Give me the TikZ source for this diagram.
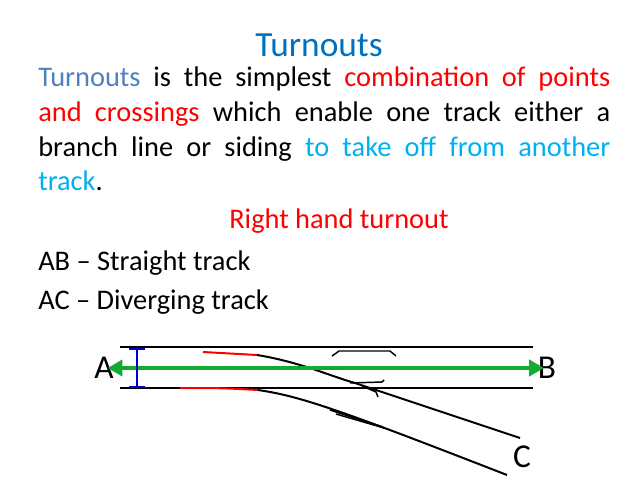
\documentclass[tikz,border=0pt]{standalone}
\usepackage{fontspec}
\setmainfont{Carlito}
\usetikzlibrary{arrows.meta}
\definecolor{ttl}{RGB}{0,112,192}
\definecolor{sblue}{RGB}{79,129,189}
\definecolor{cyn}{RGB}{0,176,240}
\definecolor{rd}{RGB}{255,0,0}
\definecolor{grn}{RGB}{20,170,50}
\begin{document}
\begin{tikzpicture}[x=0.75pt,y=-0.75pt,
  rail/.style={line width=1.5pt,black},
  chk/.style={line width=1.1pt,black},
  redrail/.style={line width=1.5pt,rd},
  lbl/.style={font=\fontsize{25}{25}\selectfont}]
\useasboundingbox (0,0) rectangle (638,478);
\node (title) at (319,45) {\fontsize{26.5}{30}\selectfont\color{ttl}Turnouts};
\node[anchor=north west,text width=429pt,align=justify,inner sep=0pt,font=\fontsize{21.3}{25.9}\selectfont] (para) at (38,67)
 {\hyphenpenalty=10000 \exhyphenpenalty=10000
 {\color{sblue}Turnouts} is the simplest {\color{rd}combination of points}\linebreak {\color{rd}and crossings} which enable one track either a\linebreak branch line or siding {\color{cyn}to take off from another}\linebreak {\color{cyn}track}.};
\node (rht) at (339,221) {\fontsize{21.3}{24}\selectfont\color{rd}Right hand turnout};
\node[anchor=west,inner sep=0pt] (ab) at (38,263) {\fontsize{21.3}{24}\selectfont AB -- Straight track};
\node[anchor=west,inner sep=0pt] (ac) at (38,302) {\fontsize{21.3}{24}\selectfont AC -- Diverging track};
% rails
\coordinate (t1) at (120,347); \coordinate (t2) at (533,347);
\coordinate (b1) at (120,388); \coordinate (b2) at (533,388);
\draw[rail] (t1) -- (t2);
\draw[rail] (b1) -- (b2);
% lower diverging rail
\coordinate (l0) at (180,388); \coordinate (l1) at (258,390); \coordinate (l2) at (507,475);
\draw[rail] (l1) .. controls (300,396) and (340,410) .. (l2);
\draw[redrail] (l0) .. controls (220,388) .. (l1);
% upper switch rail
\coordinate (u0) at (203,352); \coordinate (u1) at (257,355); \coordinate (u2) at (520,438);
\draw[redrail] (u0) -- (u1);
\draw[rail] (u1) .. controls (300,362) and (330,376) .. (355,383) -- (u2);
% check rails
\draw[chk] (332,356) -- (339,351) -- (390,351) -- (396,356);
\draw[chk] (350,383) -- (382,382) -- (384,380);
\draw[chk] (362,386) -- (376,392) -- (378,397);
\draw[chk] (330,410) -- (342,414) -- (383,427);
\draw[chk] (336,414) -- (384,428);
% green arrow
\node[lbl] (A) at (104,368) {A};
\node[lbl] (B) at (547,368) {B};
\node[lbl] (C) at (522,457) {C};
\draw[grn,line width=3.2pt,{Triangle[length=11pt,width=12pt]}-{Triangle[length=11pt,width=12pt]}] ([xshift=-8]A.east) -- ([xshift=8]B.west);
% blue gauge
\coordinate (g1) at (137,349); \coordinate (g2) at (137,387);
\draw[blue!80!black,line width=2pt] (g1) -- (g2) (129,349) -- (145,349) (129,387) -- (145,387);
\end{tikzpicture}
\end{document}
